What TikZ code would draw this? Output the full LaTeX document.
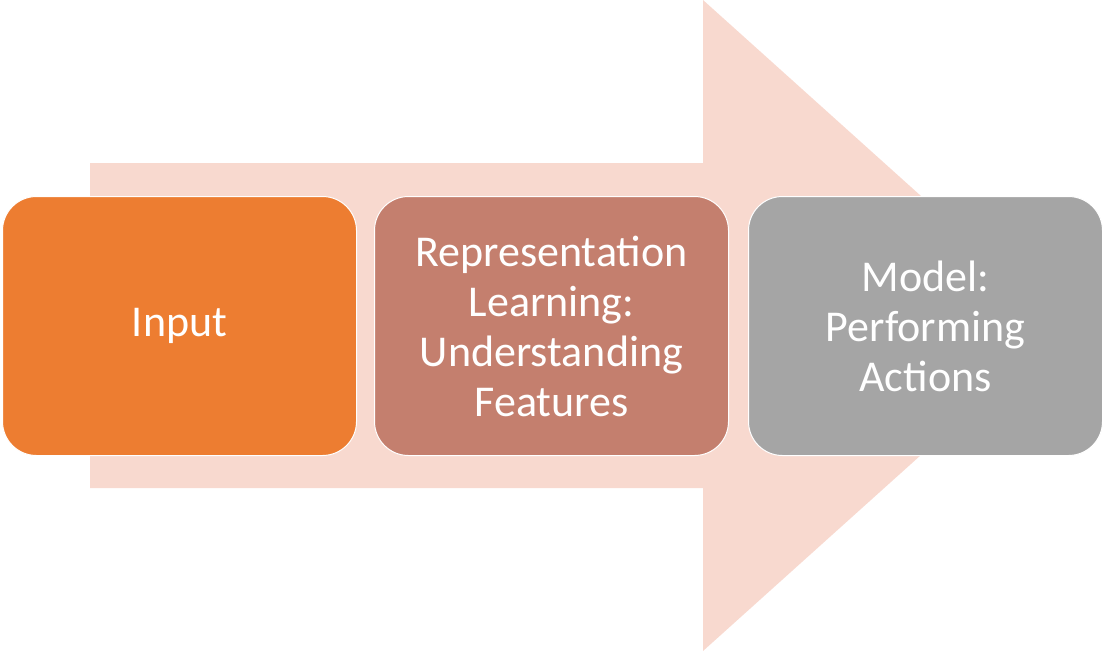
\documentclass[tikz,border=0pt]{standalone}
\usepackage{fontspec}
\setmainfont{Carlito}
\begin{document}
\begin{tikzpicture}[x=1pt,y=-1pt,
  stage/.style={draw=white,line width=1pt,rounded corners=34pt,minimum width=354pt,minimum height=259pt,text=white,align=center,font=\fontsize{44}{50}\selectfont,anchor=north west,inner sep=0pt}]
\useasboundingbox (0,0) rectangle (1104,651);
\fill[fill={rgb,255:red,248;green,217;blue,207}] (90,163) -- (703,163) -- (703,0) -- (1065,325.5) -- (703,651) -- (703,488) -- (90,488) -- cycle;
\node[stage,fill={rgb,255:red,237;green,125;blue,49}] (in) at (2,196) {Input};
\node[stage,fill={rgb,255:red,196;green,127;blue,110}] (rep) at (374,196) {Representation\\Learning:\\Understanding\\Features};
\node[stage,fill={rgb,255:red,165;green,165;blue,165}] (mod) at (748,196) {Model:\\Performing\\Actions};
\end{tikzpicture}
\end{document}
